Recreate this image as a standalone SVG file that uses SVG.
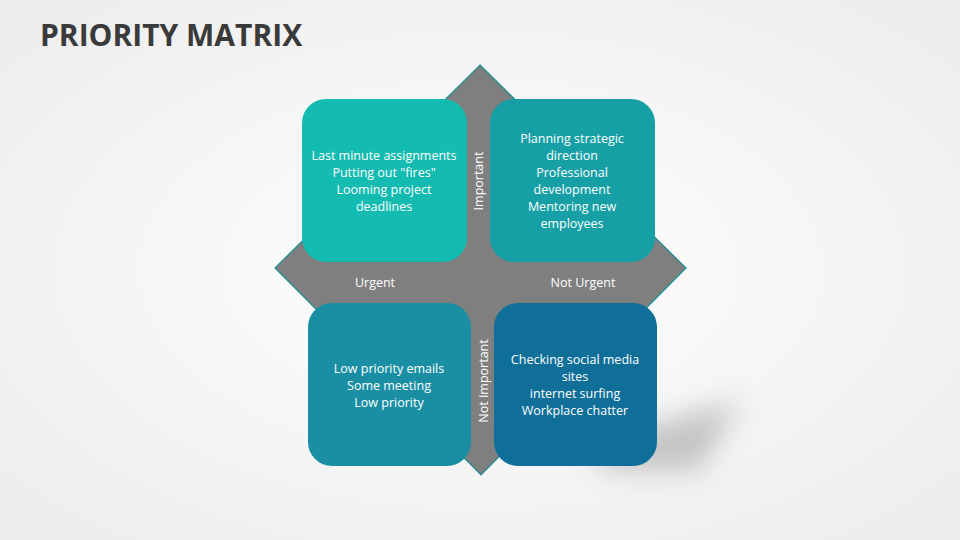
<svg xmlns="http://www.w3.org/2000/svg" width="960" height="540" viewBox="0 0 960 540">
<defs>
<radialGradient id="bg" cx="0.5" cy="0.5" r="0.7"><stop offset="0" stop-color="#ffffff"/><stop offset="1" stop-color="#ececec"/></radialGradient>
<filter id="blur" x="-50%" y="-50%" width="200%" height="200%"><feGaussianBlur stdDeviation="14"/></filter>
</defs>
<style>
.t{font-family:"Open Sans","Liberation Sans",sans-serif;font-size:12.5px;fill:#fff;text-anchor:middle}
.box{stroke:none}
</style>
<rect width="960" height="540" fill="url(#bg)"/>
<text x="40" y="46" font-family="'Open Sans','Liberation Sans',sans-serif" font-weight="bold" font-size="30" fill="#3a3a3a">PRIORITY MATRIX</text>
<path d="M600 440 L740 400 L700 470 L600 470 Z" fill="#888" opacity="0.45" filter="url(#blur)"/>
<g id="diamond"><polygon points="480,65 686,268 481,475 275,268" fill="#7f7f7f" stroke="#1a8f94" stroke-width="1.2"/></g>
<g id="axes">
<text class="t" x="375" y="287">Urgent</text>
<text class="t" x="583" y="287">Not Urgent</text>
<text class="t" transform="translate(483,181) rotate(-90)">Important</text>
<text class="t" transform="translate(488,381) rotate(-90)">Not Important</text>
</g>
<g id="q1"><rect class="box" x="302" y="99" width="165" height="163" rx="24" fill="#14bbb0"/>
<text class="t" x="384" y="160">Last minute assignments</text><text class="t" x="384" y="177">Putting out "fires"</text><text class="t" x="384" y="194">Looming project</text><text class="t" x="384" y="211">deadlines</text></g>
<g id="q2"><rect class="box" x="490" y="99" width="165" height="163" rx="24" fill="#16a0a6"/>
<text class="t" x="572" y="143">Planning strategic</text><text class="t" x="572" y="160">direction</text><text class="t" x="572" y="177">Professional</text><text class="t" x="572" y="194">development</text><text class="t" x="572" y="211">Mentoring new</text><text class="t" x="572" y="228">employees</text></g>
<g id="q3"><rect class="box" x="308" y="303" width="163" height="163" rx="24" fill="#1a8fa3"/>
<text class="t" x="389" y="373">Low priority emails</text><text class="t" x="389" y="390">Some meeting</text><text class="t" x="389" y="407">Low priority</text></g>
<g id="q4"><rect class="box" x="494" y="303" width="163" height="163" rx="24" fill="#0f6f99"/>
<text class="t" x="575" y="364">Checking social media</text><text class="t" x="575" y="381">sites</text><text class="t" x="575" y="398">internet surfing</text><text class="t" x="575" y="415">Workplace chatter</text></g>
</svg>
